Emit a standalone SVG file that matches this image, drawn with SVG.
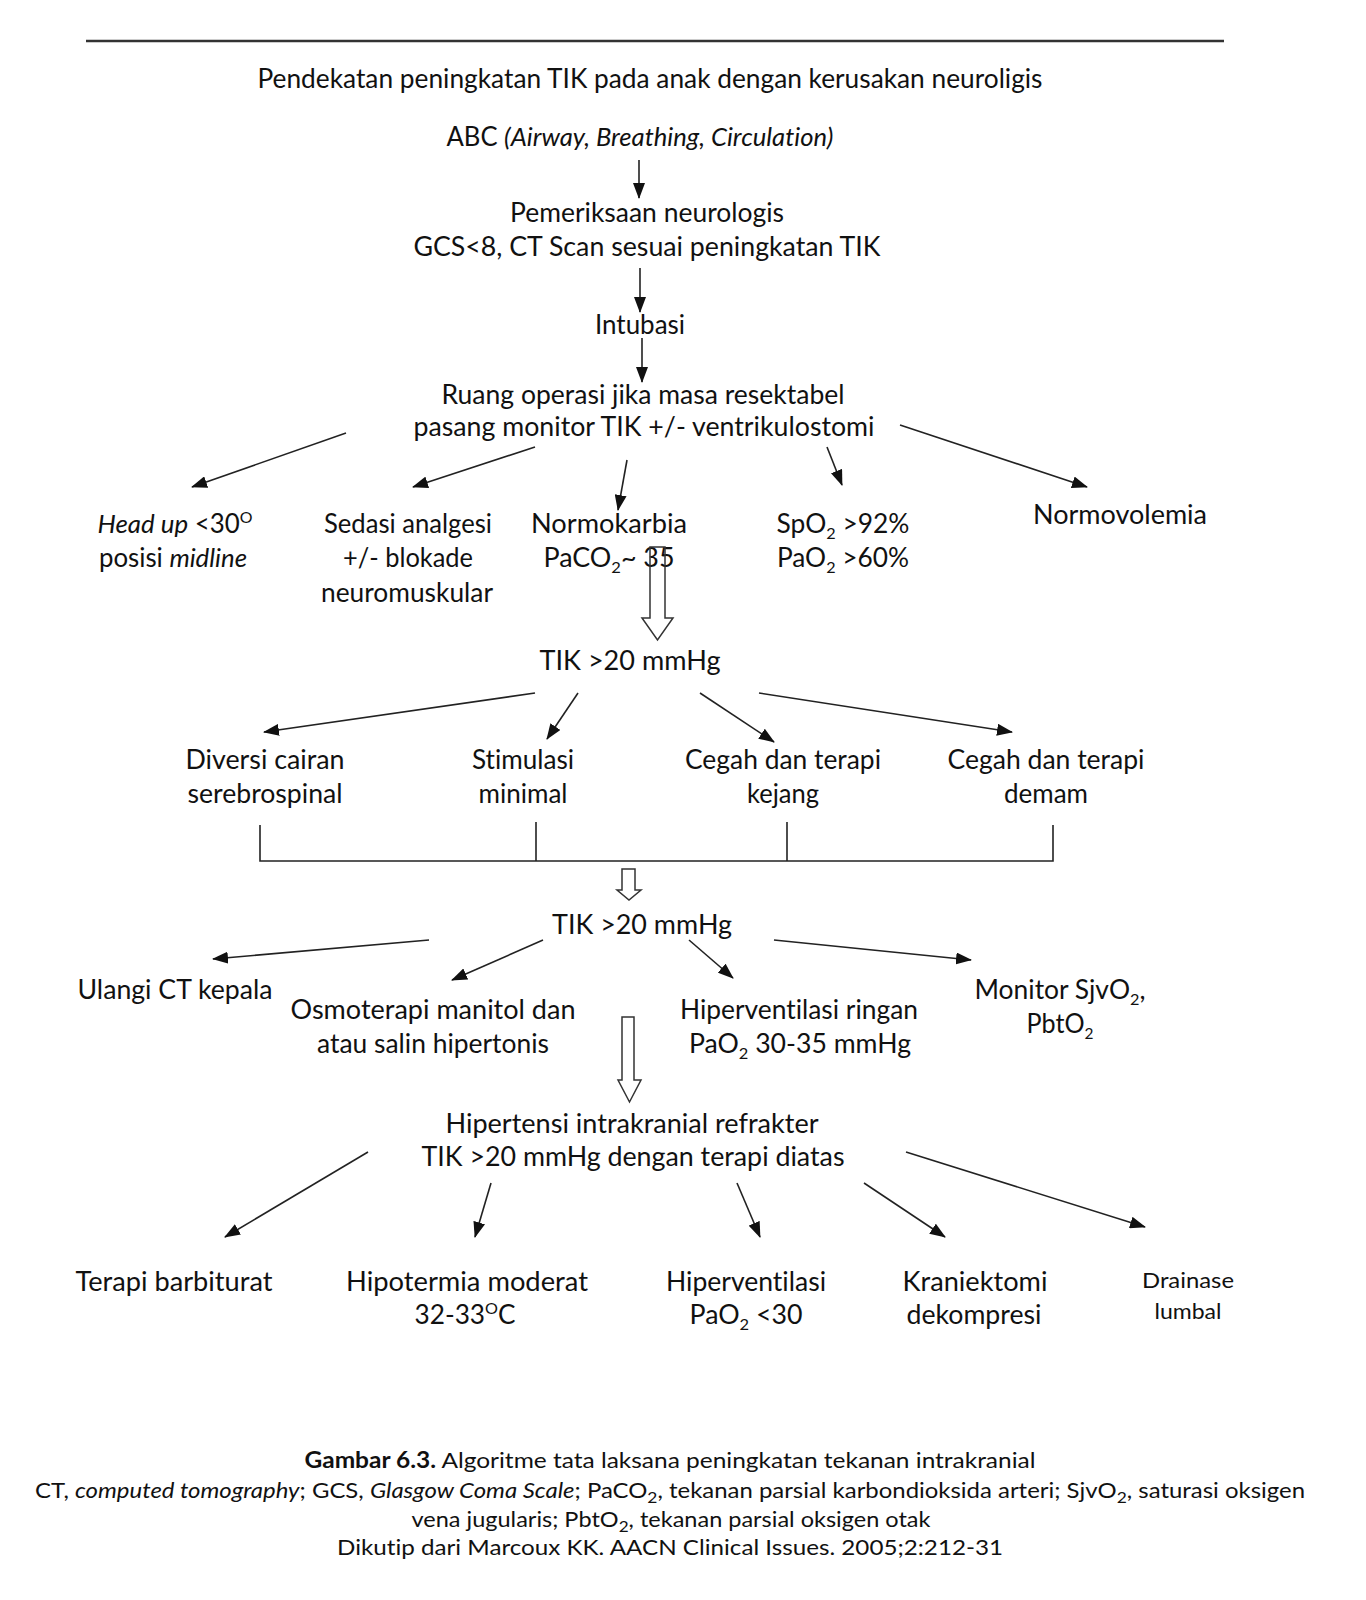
<svg xmlns="http://www.w3.org/2000/svg" width="1366" height="1600" viewBox="0 0 1366 1600">
<style>
  text { font-family: Lato, "Open Sans", "Liberation Sans", sans-serif; font-size: 26px; fill: #111; text-anchor: middle; font-variant-ligatures: none; font-feature-settings: "liga" 0, "clig" 0, "dlig" 0; }
  .it { font-style: italic; }
  .sub { font-size: 16px; }
  .sm { font-size: 22px; }
  .cap { font-size: 22px; }
  .b { font-weight: bold; }
  .ln { stroke: #222; stroke-width: 1.6; fill: none; }
  .arr { stroke: #222; stroke-width: 1.6; fill: none; marker-end: url(#ah); }
  .hollow { stroke: #333; stroke-width: 1.5; fill: none; stroke-linejoin: miter; }
</style>
<defs>
  <marker id="ah" markerUnits="userSpaceOnUse" markerWidth="16" markerHeight="12" refX="15" refY="6" orient="auto">
    <path d="M0,0 L16,6 L0,12 Z" fill="#111"/>
  </marker>
</defs>
<rect width="1366" height="1600" fill="#fff"/>
<line x1="86" y1="41" x2="1224" y2="41" stroke="#333" stroke-width="2.5"/>

<g id="title"><text x="650" y="88" textLength="785" lengthAdjust="spacingAndGlyphs">Pendekatan peningkatan TIK pada anak dengan kerusakan neuroligis</text></g>
<g id="abc"><text x="640" y="146" textLength="387" lengthAdjust="spacingAndGlyphs">ABC <tspan class="it">(Airway, Breathing, Circulation)</tspan></text></g>
<g id="pemeriksaan">
  <text x="647" y="222" textLength="274" lengthAdjust="spacingAndGlyphs">Pemeriksaan neurologis</text>
  <text x="647" y="256" textLength="467" lengthAdjust="spacingAndGlyphs">GCS&lt;8, CT Scan sesuai peningkatan TIK</text>
</g>
<g id="intubasi"><text x="640" y="334" textLength="90" lengthAdjust="spacingAndGlyphs">Intubasi</text></g>
<g id="ruang">
  <text x="643" y="404" textLength="403" lengthAdjust="spacingAndGlyphs">Ruang operasi jika masa resektabel</text>
  <text x="644" y="436" textLength="461" lengthAdjust="spacingAndGlyphs">pasang monitor TIK +/- ventrikulostomi</text>
</g>

<g id="headup">
  <text x="175" y="533" textLength="155" lengthAdjust="spacingAndGlyphs"><tspan class="it">Head up</tspan> &lt;30<tspan class="sub" dy="-10">O</tspan></text>
  <text x="173" y="567" textLength="148" lengthAdjust="spacingAndGlyphs">posisi <tspan class="it">midline</tspan></text>
</g>
<g id="sedasi">
  <text x="408" y="533" textLength="168" lengthAdjust="spacingAndGlyphs">Sedasi analgesi</text>
  <text x="408" y="567" textLength="130" lengthAdjust="spacingAndGlyphs">+/- blokade</text>
  <text x="407" y="602" textLength="172" lengthAdjust="spacingAndGlyphs">neuromuskular</text>
</g>
<g id="normokarbia">
  <text x="609" y="533" textLength="156" lengthAdjust="spacingAndGlyphs">Normokarbia</text>
  <text x="609" y="567" textLength="131" lengthAdjust="spacingAndGlyphs">PaCO<tspan class="sub" dy="6">2</tspan><tspan dy="-6">~ 35</tspan></text>
</g>
<g id="spo2">
  <text x="843" y="533" textLength="133" lengthAdjust="spacingAndGlyphs">SpO<tspan class="sub" dy="6">2</tspan><tspan dy="-6"> &gt;92%</tspan></text>
  <text x="843" y="567" textLength="132" lengthAdjust="spacingAndGlyphs">PaO<tspan class="sub" dy="6">2</tspan><tspan dy="-6"> &gt;60%</tspan></text>
</g>
<g id="normovolemia"><text x="1120" y="524" textLength="174" lengthAdjust="spacingAndGlyphs">Normovolemia</text></g>

<g id="tik1"><text x="630" y="670" textLength="181" lengthAdjust="spacingAndGlyphs">TIK &gt;20 mmHg</text></g>

<g id="diversi">
  <text x="265" y="769" textLength="159" lengthAdjust="spacingAndGlyphs">Diversi cairan</text>
  <text x="265" y="803" textLength="155" lengthAdjust="spacingAndGlyphs">serebrospinal</text>
</g>
<g id="stimulasi">
  <text x="523" y="769" textLength="102" lengthAdjust="spacingAndGlyphs">Stimulasi</text>
  <text x="523" y="803" textLength="89" lengthAdjust="spacingAndGlyphs">minimal</text>
</g>
<g id="kejang">
  <text x="783" y="769" textLength="196" lengthAdjust="spacingAndGlyphs">Cegah dan terapi</text>
  <text x="783" y="803" textLength="72" lengthAdjust="spacingAndGlyphs">kejang</text>
</g>
<g id="demam">
  <text x="1046" y="769" textLength="197" lengthAdjust="spacingAndGlyphs">Cegah dan terapi</text>
  <text x="1046" y="803" textLength="84" lengthAdjust="spacingAndGlyphs">demam</text>
</g>

<g id="tik2"><text x="642" y="934" textLength="180" lengthAdjust="spacingAndGlyphs">TIK &gt;20 mmHg</text></g>

<g id="ulangi"><text x="175" y="999" textLength="195" lengthAdjust="spacingAndGlyphs">Ulangi CT kepala</text></g>
<g id="osmoterapi">
  <text x="433" y="1019" textLength="285" lengthAdjust="spacingAndGlyphs">Osmoterapi manitol dan</text>
  <text x="433" y="1053" textLength="232" lengthAdjust="spacingAndGlyphs">atau salin hipertonis</text>
</g>
<g id="hiperventilasi-ringan">
  <text x="799" y="1019" textLength="238" lengthAdjust="spacingAndGlyphs">Hiperventilasi ringan</text>
  <text x="800" y="1053" textLength="222" lengthAdjust="spacingAndGlyphs">PaO<tspan class="sub" dy="6">2</tspan><tspan dy="-6"> 30-35 mmHg</tspan></text>
</g>
<g id="monitor">
  <text x="1060" y="999" textLength="171" lengthAdjust="spacingAndGlyphs">Monitor SjvO<tspan class="sub" dy="6">2</tspan><tspan dy="-6">,</tspan></text>
  <text x="1060" y="1033" textLength="67" lengthAdjust="spacingAndGlyphs">PbtO<tspan class="sub" dy="6">2</tspan></text>
</g>

<g id="refrakter">
  <text x="632" y="1133" textLength="373" lengthAdjust="spacingAndGlyphs">Hipertensi intrakranial refrakter</text>
  <text x="633" y="1166" textLength="423" lengthAdjust="spacingAndGlyphs">TIK &gt;20 mmHg dengan terapi diatas</text>
</g>

<g id="barbiturat"><text x="174" y="1291" textLength="197" lengthAdjust="spacingAndGlyphs">Terapi barbiturat</text></g>
<g id="hipotermia">
  <text x="467" y="1291" textLength="242" lengthAdjust="spacingAndGlyphs">Hipotermia moderat</text>
  <text x="465" y="1324" textLength="101" lengthAdjust="spacingAndGlyphs">32-33<tspan class="sub" dy="-10">O</tspan><tspan dy="10">C</tspan></text>
</g>
<g id="hiperventilasi">
  <text x="746" y="1291" textLength="160" lengthAdjust="spacingAndGlyphs">Hiperventilasi</text>
  <text x="746" y="1324" textLength="113" lengthAdjust="spacingAndGlyphs">PaO<tspan class="sub" dy="6">2</tspan><tspan dy="-6"> &lt;30</tspan></text>
</g>
<g id="kraniektomi">
  <text x="975" y="1291" textLength="145" lengthAdjust="spacingAndGlyphs">Kraniektomi</text>
  <text x="974" y="1324" textLength="135" lengthAdjust="spacingAndGlyphs">dekompresi</text>
</g>
<g id="drainase">
  <text class="sm" x="1188" y="1288" textLength="92" lengthAdjust="spacingAndGlyphs">Drainase</text>
  <text class="sm" x="1188" y="1319" textLength="67" lengthAdjust="spacingAndGlyphs">lumbal</text>
</g>

<g id="connectors">
  <line class="arr" x1="639" y1="160" x2="639" y2="198"/>
  <line class="arr" x1="640" y1="268" x2="640" y2="312"/>
  <line class="arr" x1="642" y1="338" x2="642" y2="382"/>

  <line class="arr" x1="346" y1="433" x2="192" y2="487"/>
  <line class="arr" x1="535" y1="447" x2="413" y2="487"/>
  <line class="arr" x1="627" y1="460" x2="618" y2="510"/>
  <line class="arr" x1="827" y1="447" x2="842" y2="485"/>
  <line class="arr" x1="900" y1="425" x2="1087" y2="487"/>

  <path class="hollow" d="M650,547 H665 V618 H673 L657.5,640 L642,618 H650 Z"/>

  <line class="arr" x1="535" y1="693" x2="264" y2="732"/>
  <line class="arr" x1="578" y1="693" x2="547" y2="739"/>
  <line class="arr" x1="700" y1="693" x2="774" y2="742"/>
  <line class="arr" x1="759" y1="693" x2="1012" y2="732"/>

  <path class="ln" d="M260,825 V861 H1053 V825 M536,822 V861 M787,822 V861"/>
  <path class="hollow" d="M622,869 H635 V890 H641 L629,900 L617,890 H622 Z"/>

  <line class="arr" x1="429" y1="940" x2="213" y2="959"/>
  <line class="arr" x1="543" y1="940" x2="452" y2="980"/>
  <line class="arr" x1="689" y1="940" x2="733" y2="978"/>
  <line class="arr" x1="774" y1="940" x2="971" y2="960"/>

  <path class="hollow" d="M622,1017 H634 V1080 H641 L629.5,1102 L618,1080 H622 Z"/>

  <line class="arr" x1="368" y1="1152" x2="225" y2="1237"/>
  <line class="arr" x1="491" y1="1183" x2="475" y2="1237"/>
  <line class="arr" x1="737" y1="1183" x2="760" y2="1237"/>
  <line class="arr" x1="864" y1="1183" x2="945" y2="1237"/>
  <line class="arr" x1="906" y1="1152" x2="1145" y2="1227"/>
</g>

<g id="caption">
  <text class="cap" x="670" y="1468" textLength="731" lengthAdjust="spacingAndGlyphs"><tspan class="b">Gambar 6.3.</tspan> Algoritme tata laksana peningkatan tekanan intrakranial</text>
  <text class="cap" x="670" y="1498" textLength="1270" lengthAdjust="spacingAndGlyphs">CT, <tspan class="it">computed tomography</tspan>; GCS, <tspan class="it">Glasgow Coma Scale</tspan>; PaCO<tspan class="sub" dy="5">2</tspan><tspan dy="-5">, tekanan parsial karbondioksida arteri; SjvO</tspan><tspan class="sub" dy="5">2</tspan><tspan dy="-5">, saturasi oksigen</tspan></text>
  <text class="cap" x="671" y="1527" textLength="519" lengthAdjust="spacingAndGlyphs">vena jugularis; PbtO<tspan class="sub" dy="5">2</tspan><tspan dy="-5">, tekanan parsial oksigen otak</tspan></text>
  <text class="cap" x="670" y="1555" textLength="666" lengthAdjust="spacingAndGlyphs">Dikutip dari Marcoux KK. AACN Clinical Issues. 2005;2:212-31</text>
</g>
</svg>
